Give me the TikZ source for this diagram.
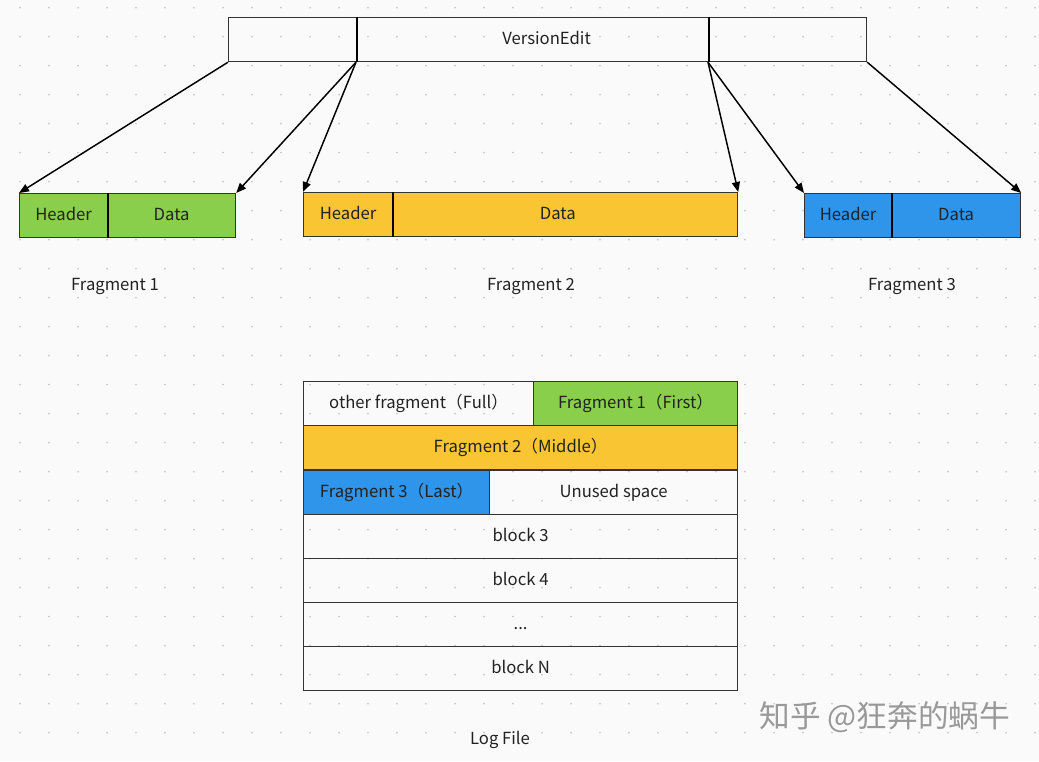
\documentclass[tikz,border=0pt]{standalone}
\usepackage{fontspec}
\setmainfont{Noto Sans CJK SC}
\usetikzlibrary{arrows.meta,positioning}
\definecolor{pagebg}{HTML}{FAFAFA}
\definecolor{griddot}{HTML}{C9C9C9}
\definecolor{fggreen}{HTML}{8ACF4C}
\definecolor{fgyellow}{HTML}{F9C533}
\definecolor{fgblue}{HTML}{2E95EA}
\definecolor{txtdark}{HTML}{222222}

\begin{document}
\begin{tikzpicture}[x=0.75pt,y=-0.75pt,
  cell/.style={rectangle,draw=black!80,line width=0.9pt,inner sep=0pt,
               anchor=north west,minimum height=33pt,
               text height=0.95em,text depth=0.16em,
               font=\fontsize{12.5}{14}\selectfont,text=txtdark},
  caption/.style={font=\fontsize{12.5}{14}\selectfont,text=txtdark},
  split/.style={line width=1.7pt,black},
  arr/.style={-{Triangle[length=7.5pt,width=6pt]},line width=1.1pt,black}
]

  % ---- Page background and dot grid ---------------------------
  \fill[pagebg] (0,0) rectangle (1039,761);
  \useasboundingbox (0,0) rectangle (1039,761);
  \foreach \i in {0,...,35}
    \foreach \j in {0,...,25}
      \fill[griddot] (20+29*\i, 7.7+29*\j) circle (0.75pt);

  % ---- VersionEdit record (top) --------------------------------
  \node[cell,minimum width=96pt]    (ve1) at (228,17) {};
  \node[cell,minimum width=264pt]   (ve2) at (356,17) {\hspace*{21pt}VersionEdit};
  \node[cell,minimum width=118.5pt] (ve3) at (708,17) {};
  \draw[split] (ve1.north east) -- (ve1.south east);
  \draw[split] (ve2.north east) -- (ve2.south east);

  % ---- Fragments ----------------------------------------------
  \node[cell,fill=fggreen,minimum width=66pt]      (f1h) at (19,193)  {Header};
  \node[cell,fill=fggreen,minimum width=96pt]      (f1d) at (107,193) {Data};
  \draw[split] (f1h.north east) -- (f1h.south east);

  \node[cell,fill=fgyellow,minimum width=66.75pt]  (f2h) at (303,192) {Header};
  \node[cell,fill=fgyellow,minimum width=258.75pt] (f2d) at (392,192) {Data\hspace*{11pt}};
  \draw[split] (f2h.north east) -- (f2h.south east);

  \node[cell,fill=fgblue,minimum width=65.25pt]    (f3h) at (804,193) {Header};
  \node[cell,fill=fgblue,minimum width=96.75pt]    (f3d) at (891,193) {Data};
  \draw[split] (f3h.north east) -- (f3h.south east);

  \node[caption] (l1) at (115,286) {Fragment 1};
  \node[caption] (l2) at (531,286) {Fragment 2};
  \node[caption] (l3) at (912,286) {Fragment 3};

  % Arrows from VersionEdit to fragments
  \draw[arr] (ve1.south west) -- (f1h.north west);
  \draw[arr] (ve2.south west) -- (f1d.north east);
  \draw[arr] (ve2.south west) -- (f2h.north west);
  \draw[arr] (ve3.south west) -- (f2d.north east);
  \draw[arr] (ve3.south west) -- (f3h.north west);
  \draw[arr] (ve3.south east) -- (f3d.north east);

  % ---- Log file blocks ----------------------------------------
  \node[cell,minimum width=172.5pt]              (b0a) at (303,381)   {other fragment（Full）};
  \node[cell,fill=fggreen,minimum width=153pt]   (b0b) at (533,381)   {Fragment 1（First）};
  \node[cell,fill=fgyellow,minimum width=325.5pt] (b1) at (303,425)   {Fragment 2（Middle）};
  \node[cell,fill=fgblue,minimum width=139.5pt]  (b2a) at (303,469.5) {Fragment 3（Last）};
  \node[cell,minimum width=186pt]                (b2b) at (489,469.5) {Unused space};
  \node[cell,minimum width=325.5pt] (b3) at (303,514) {block 3};
  \node[cell,minimum width=325.5pt] (b4) at (303,558) {block 4};
  \node[cell,minimum width=325.5pt] (b5) at (303,602) {...};
  \node[cell,minimum width=325.5pt] (bN) at (303,646) {block N};

  \node[caption] (lf) at (500,740) {Log File};

  % ---- Watermark ----------------------------------------------
  \node[font=\fontsize{23}{25}\selectfont,text=black!40] (wm) at (885,717)
    {知乎 @狂奔的蜗牛};

\end{tikzpicture}
\end{document}
